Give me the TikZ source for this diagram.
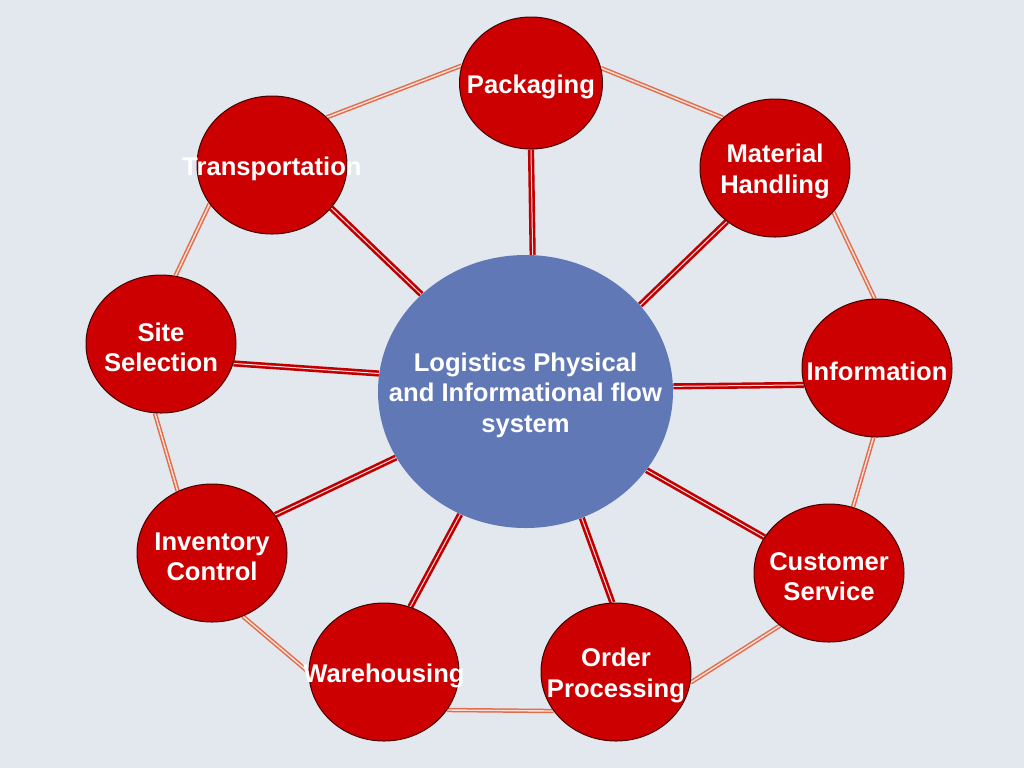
\documentclass[tikz,border=0pt]{standalone}
\usepackage{fontspec}
\setmainfont{Liberation Sans}
\usetikzlibrary{shapes.geometric}
\pgfdeclarelayer{bg}
\pgfdeclarelayer{edges}
\pgfsetlayers{bg,edges,main}
\definecolor{bgcol}{RGB}{227,232,239}
\definecolor{satfill}{RGB}{204,0,0}
\definecolor{satborder}{RGB}{70,0,0}
\definecolor{hubfill}{RGB}{97,120,182}
\definecolor{spokecol}{RGB}{192,0,0}
\definecolor{spokecore}{RGB}{248,222,222}
\definecolor{ringcol}{RGB}{228,108,74}
\definecolor{ringcore}{RGB}{246,226,218}
\begin{document}
\begin{tikzpicture}[x=0.5pt,y=-0.5pt,
  sat/.style={ellipse,draw=satborder,line width=0.5pt,fill=satfill,
    minimum width=75pt,minimum height=69pt,inner sep=0pt},
  sattext/.style={text=white,font=\fontsize{12.8}{15.2}\selectfont\bfseries,
    align=center,inner sep=0pt,yshift=-1.8pt},
  hub/.style={ellipse,fill=hubfill,minimum width=147.5pt,minimum height=136.5pt,
    inner sep=0pt},
  spoke/.style={draw=spokecol,line width=1.3pt,double=spokecore,double distance=0.5pt},
  ring/.style={draw=ringcol,line width=0.75pt,double=ringcore,double distance=0.7pt}]
\begin{pgfonlayer}{bg}
\fill[bgcol] (0,0) rectangle (1024,768);
\end{pgfonlayer}
\useasboundingbox (0,0) rectangle (1024,768);

\node[hub,label={[sattext]center:Logistics Physical\\and Informational flow\\system}] (C) at (525.5,391.5) {};

\node[sat,minimum width=71.5pt,minimum height=66pt,label={[sattext]center:Packaging}] (P) at (531,83) {};
\node[sat,label={[sattext]center:Material\\Handling}] (MH) at (775,168) {};
\node[sat,label={[sattext]center:Information}] (I) at (877,368) {};
\node[sat,label={[sattext]center:Customer\\Service}] (CS) at (829,573) {};
\node[sat,label={[sattext]center:Order\\Processing}] (OP) at (616,672) {};
\node[sat,label={[sattext]center:Warehousing}] (W) at (384,672) {};
\node[sat,label={[sattext]center:Inventory\\Control}] (IC) at (212,553) {};
\node[sat,label={[sattext]center:Site\\Selection}] (SS) at (161,344) {};
\node[sat,label={[sattext]center:Transportation}] (T) at (272,165) {};

\begin{pgfonlayer}{edges}
\draw[spoke] (C.87.7) -- (P.-90);
\draw[spoke] (C.37) -- (MH.-132);
\draw[spoke] (C.2.9) -- (I.-167.6);
\draw[spoke] (C.-33.4) -- (CS.151.7);
\draw[spoke] (C.-66.9) -- (OP.93.4);
\draw[spoke] (C.-118.3) -- (W.68.8);
\draw[spoke] (C.-153.5) -- (IC.31.2);
\draw[spoke] (C.173.6) -- (SS.-15.4);
\draw[spoke] (C.137.3) -- (T.-36.4);

\draw[ring] (T.41.9) -- (P.166.5);
\draw[ring] (P.12) -- (MH.136.7);
\draw[ring] (MH.-37.8) -- (I.92);
\draw[ring] (I.-93) -- (CS.70.6);
\draw[ring] (CS.-133) -- (OP.-8.5);
\draw[ring] (OP.-148.4) -- (W.-31.2);
\draw[ring] (W.180) -- (IC.-64.5);
\draw[ring] (IC.119) -- (SS.-95);
\draw[ring] (SS.78.5) -- (T.-148);
\end{pgfonlayer}
\end{tikzpicture}
\end{document}
